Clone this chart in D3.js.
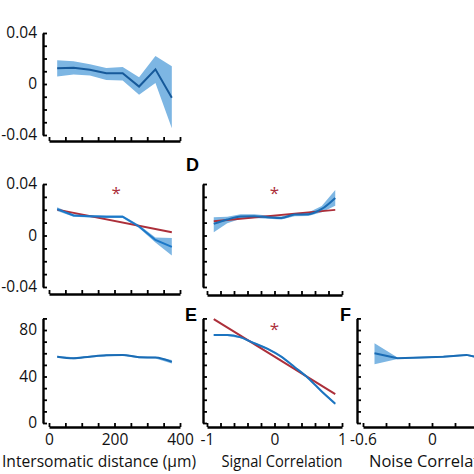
<!DOCTYPE html>
<html>
<head>
<meta charset="utf-8">
<script src="https://cdn.jsdelivr.net/npm/d3@7"></script>
<style>
  body { margin: 0; background: #fff; }
  svg { display: block; font-family: "Open Sans", sans-serif; }
</style>
</head>
<body>
<svg width="474" height="474"></svg>
<script>
// data
const distX = [25, 75, 125, 175, 225, 275, 325, 375];
const sigX = [-0.9, -0.7, -0.5, -0.3, -0.1, 0.1, 0.3, 0.5, 0.7, 0.9];
const noiseX = [-0.5, -0.3, -0.1, 0.1, 0.3, 0.5];

// row 1 (intersomatic distance)
const topMean = [0.0123, 0.0128, 0.0112, 0.0085, 0.0085, -0.002, 0.0115, -0.0107];
const topLo = [0.0059, 0.0075, 0.0067, 0.0032, 0.0027, -0.0085, 0.0008, -0.0347];
const topHi = [0.0187, 0.0179, 0.0155, 0.0125, 0.0133, 0.0053, 0.022, 0.0139];

// row 2 left (distance)
const midMean = [0.0205, 0.0155, 0.0150, 0.0146, 0.0146, 0.0070, -0.0035, -0.0088];
const midLo = [0.019, 0.0145, 0.014, 0.0136, 0.0136, 0.0058, -0.0055, -0.0155];
const midHi = [0.022, 0.0165, 0.016, 0.0156, 0.0156, 0.0082, -0.0015, -0.002];
const midFit = [0.0201, 0.0026];

// row 2 D (signal correlation)
const dMean = [0.009, 0.0124, 0.0147, 0.015, 0.0142, 0.0136, 0.0163, 0.0165, 0.0206, 0.0292];
const dLo = [0.0026, 0.0095, 0.013, 0.0135, 0.013, 0.0125, 0.015, 0.0152, 0.018, 0.0232];
const dHi = [0.0142, 0.0145, 0.0165, 0.0165, 0.0155, 0.0148, 0.0175, 0.0178, 0.023, 0.0354];
const dFit = [0.0111, 0.0199];

// row 3 left (distance)
const botMean = [57.1, 55.7, 57.1, 58.3, 58.6, 56.6, 56.3, 52.6];
const botLo = [56.3, 54.9, 56.3, 57.5, 57.8, 55.8, 55.5, 51.1];
const botHi = [57.9, 56.5, 57.9, 59.1, 59.4, 57.4, 57.1, 54.1];

// row 3 E (signal correlation)
const eMean = [75.7, 75.7, 73.7, 68.6, 63.7, 57.1, 48, 38.6, 27.1, 16.6];
const eLo = [74.9, 74.9, 72.9, 67.8, 62.9, 56.3, 47.2, 37.8, 26.3, 15.6];
const eHi = [76.5, 76.5, 74.5, 69.4, 64.5, 57.9, 48.8, 39.4, 27.9, 17.6];
const eFit = [89.4, 24.9];

// row 3 F (noise correlation)
const fMean = [60, 55.7, 56.3, 57.1, 58.6, 54.3];
const fLo = [50.6, 55, 55.6, 56.4, 57.8, 53.3];
const fHi = [68.6, 56.4, 57, 57.8, 59.4, 55.3];

const smallTicks = d3.range(-0.04, 0.0401, 0.01).map(v => +v.toFixed(2));
const bigTicks = d3.range(0, 91, 10);
const distTicks = d3.range(0, 401, 50);
const sigTicks = d3.range(-1, 1.01, 0.2).map(v => +v.toFixed(1));
const noiseTicks = d3.range(-0.6, 0.61, 0.2).map(v => +v.toFixed(1));

const svg = d3.select("svg");
const BAND = "#7db6e3", MEAN = "#1a6cb5", RED = "#ac2f3a";

function panel(o) {
  const x = d3.scaleLinear().domain(o.xDom).range(o.xRange);
  const y = d3.scaleLinear().domain(o.yDom).range(o.yRange);
  const g = svg.append("g");

  const ya = g.append("g")
    .attr("transform", `translate(${o.axisX},0)`)
    .call(d3.axisLeft(y).tickValues(o.yTicks).tickSize(-4).tickSizeOuter(0).tickPadding(6)
      .tickFormat(d => o.yLabels && o.yLabels.includes(d) ? String(d) : ""));
  const xa = g.append("g")
    .attr("transform", `translate(0,${o.axisY})`)
    .call(d3.axisBottom(x).tickValues(o.xTicks).tickSize(-4).tickSizeOuter(0).tickPadding(7)
      .tickFormat(d => o.xLabels && o.xLabels.includes(d) ? String(d) : ""));
  [ya, xa].forEach(a => {
    a.select(".domain").attr("stroke", "#000").attr("stroke-width", 2.4);
    a.selectAll(".tick line").attr("stroke", "#000").attr("stroke-width", 1.8);
    a.selectAll("text").attr("fill", "#111").attr("font-size", 15.5).attr("font-family", "Open Sans");
  });

  const pts = o.xs.map((v, i) => ({ x: v, m: o.mean[i], lo: o.lo[i], hi: o.hi[i] }));
  g.append("path").datum(pts)
    .attr("d", d3.area().x(d => x(d.x)).y0(d => y(d.lo)).y1(d => y(d.hi)))
    .attr("fill", BAND);
  if (o.fit) {
    const ends = [o.xs[0], o.xs[o.xs.length - 1]];
    g.append("path").datum(ends.map((v, i) => [v, o.fit[i]]))
      .attr("d", d3.line().x(d => x(d[0])).y(d => y(d[1])))
      .attr("fill", "none").attr("stroke", RED).attr("stroke-width", 2);
  }
  g.append("path").datum(pts)
    .attr("d", d3.line().curve(o.smooth ? d3.curveMonotoneX : d3.curveLinear).x(d => x(d.x)).y(d => y(d.m)))
    .attr("fill", "none").attr("stroke", o.color || MEAN).attr("stroke-width", 2);
  if (o.star !== undefined) {
    g.append("text").attr("x", x(o.star)).attr("y", o.starY)
      .attr("text-anchor", "middle").attr("fill", RED).attr("font-size", 17)
      .text("*");
  }
  if (o.xTitle) {
    const t = g.append("text").attr("x", o.xTitleX).attr("y", 467)
      .attr("text-anchor", o.xTitleAnchor || "middle").attr("font-size", o.xTitleSize).attr("fill", "#111")
      .text(o.xTitle);
    if (o.xTitleLen) t.attr("textLength", o.xTitleLen).attr("lengthAdjust", "spacingAndGlyphs");
  }
}

panel({ xDom: [0, 400], xRange: [49, 180], yDom: [-0.04, 0.04], yRange: [135, 33],
  axisX: 43, axisY: 141, yTicks: smallTicks, yLabels: [-0.04, 0, 0.04], xTicks: distTicks,
  xs: distX, mean: topMean, lo: topLo, hi: topHi, color: "#16599a" });

panel({ xDom: [0, 400], xRange: [49, 180], yDom: [-0.04, 0.04], yRange: [287, 184],
  axisX: 43, axisY: 294, yTicks: smallTicks, yLabels: [-0.04, 0, 0.04], xTicks: distTicks,
  xs: distX, mean: midMean, lo: midLo, hi: midHi, fit: midFit, star: 205, starY: 199, color: "#1c78c8" });

panel({ xDom: [-1, 1], xRange: [207, 342], yDom: [-0.04, 0.04], yRange: [287, 184],
  axisX: 203, axisY: 295, yTicks: smallTicks, xTicks: sigTicks,
  xs: sigX, mean: dMean, lo: dLo, hi: dHi, fit: dFit, star: 0, starY: 199, smooth: true, color: "#1a6cb5" });

panel({ xDom: [0, 400], xRange: [49, 180], yDom: [0, 90], yRange: [423, 318.4],
  axisX: 43, axisY: 427, yTicks: bigTicks, yLabels: [0, 40, 80], xTicks: distTicks, xLabels: [0, 200, 400],
  xs: distX, mean: botMean, lo: botLo, hi: botHi, smooth: true,
  xTitle: "Intersomatic distance (µm)", xTitleX: 2, xTitleAnchor: "start", xTitleSize: 16.5, xTitleLen: 194 });

panel({ xDom: [-1, 1], xRange: [207, 342], yDom: [0, 90], yRange: [423, 318.4],
  axisX: 203, axisY: 427, yTicks: bigTicks, xTicks: sigTicks, xLabels: [-1, 0, 1],
  xs: sigX, mean: eMean, lo: eLo, hi: eHi, fit: eFit, star: 0, starY: 335, smooth: true,
  xTitle: "Signal Correlation", xTitleX: 282, xTitleSize: 16.5, xTitleLen: 121, color: "#1c74c0" });

panel({ xDom: [-0.6, 0.6], xRange: [363, 501], yDom: [0, 90], yRange: [423, 318.4],
  axisX: 357, axisY: 427, yTicks: bigTicks, xTicks: noiseTicks, xLabels: [-0.6, 0],
  xs: noiseX, mean: fMean, lo: fLo, hi: fHi,
  xTitle: "Noise Correlation", xTitleX: 369, xTitleAnchor: "start", xTitleSize: 16.5 });

// panel letters
[["D", 186, 171], ["E", 185, 321], ["F", 340, 321]].forEach(([t, x, y]) => {
  svg.append("text").attr("x", x).attr("y", y).attr("font-size", 18)
    .attr("font-weight", "bold").attr("font-family", "Liberation Sans, Arial, sans-serif").text(t);
});
</script>
</body>
</html>
